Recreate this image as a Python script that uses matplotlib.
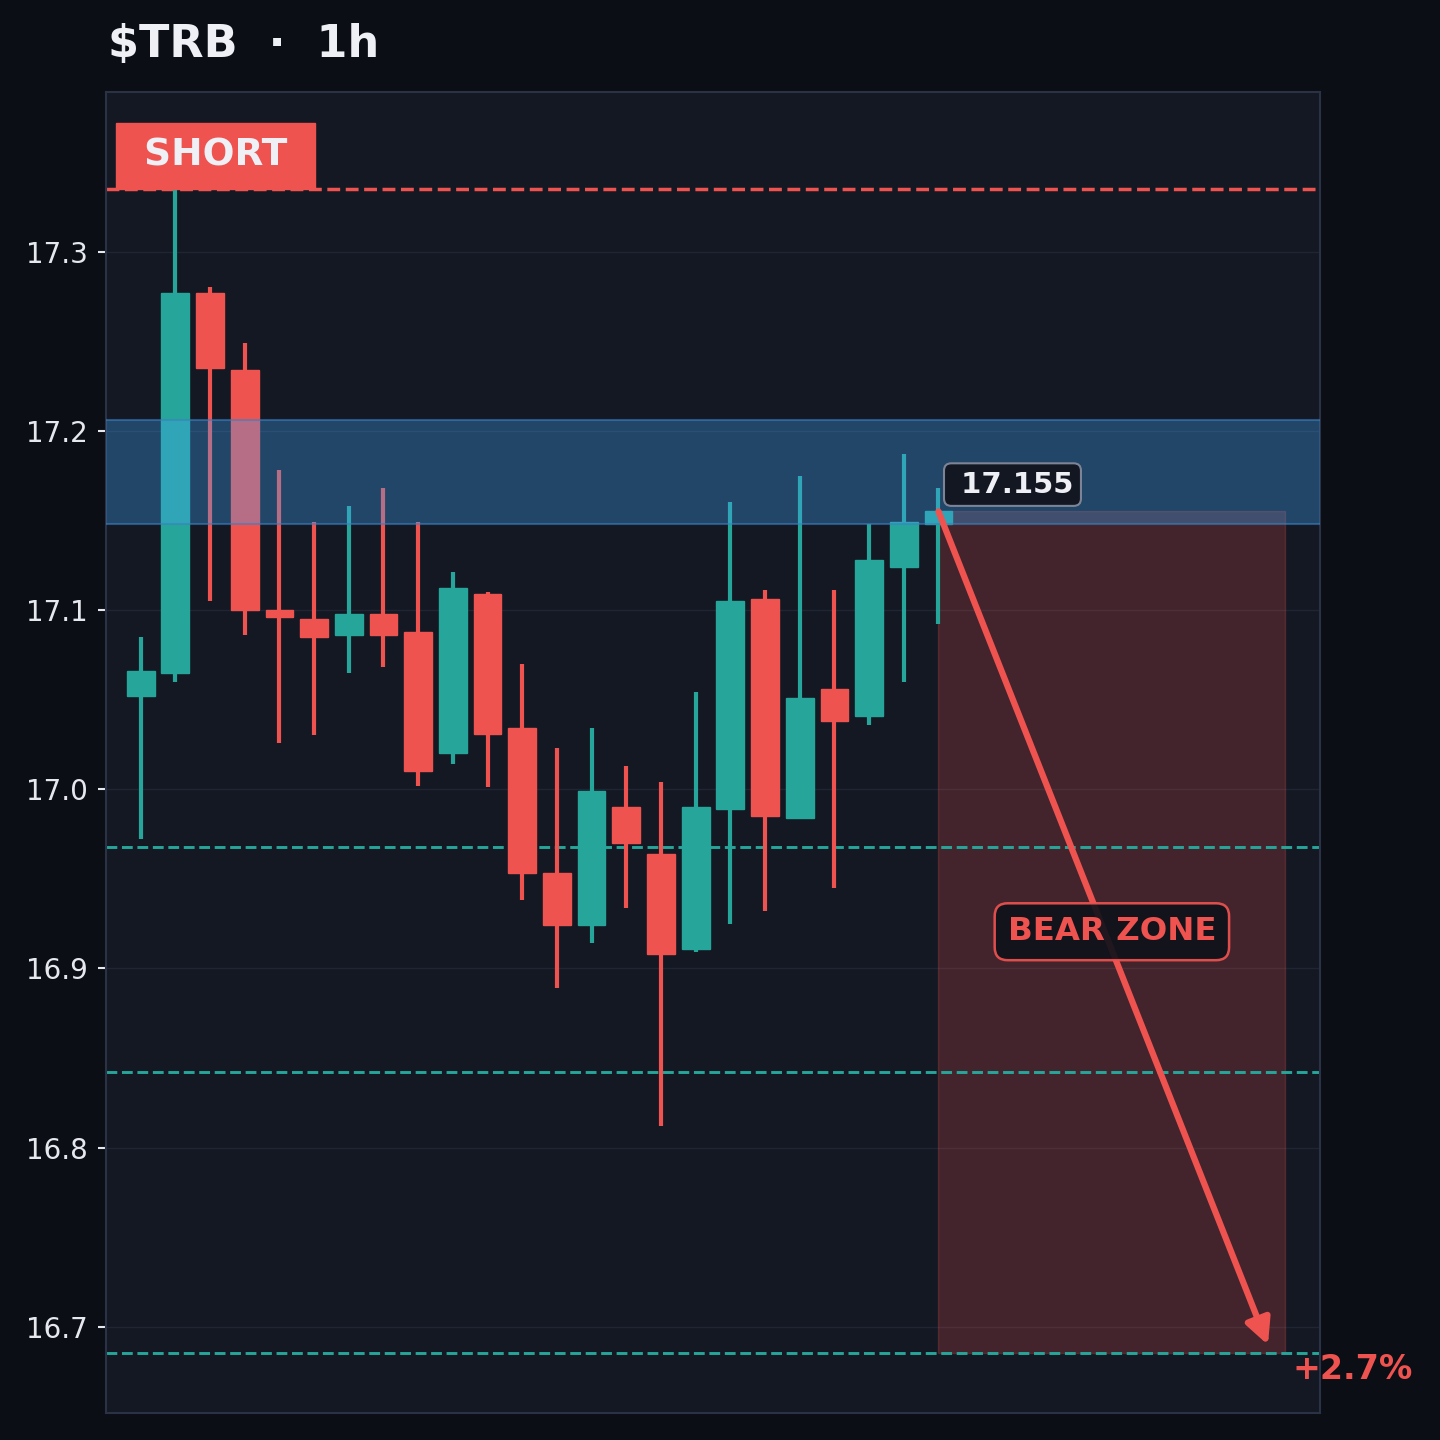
import matplotlib
matplotlib.use('Agg')
import matplotlib.pyplot as plt
from matplotlib.patches import Rectangle

# candle data (1h, 24 bars)
opens = [17.052, 17.065, 17.277, 17.234, 17.100, 17.095, 17.086, 17.098,
         17.088, 17.020, 17.109, 17.034, 16.953, 16.924, 16.990, 16.964,
         16.911, 16.989, 17.106, 16.984, 17.056, 17.041, 17.124, 17.148]
highs = [17.085, 17.336, 17.280, 17.249, 17.178, 17.149, 17.158, 17.168,
         17.149, 17.121, 17.110, 17.070, 17.023, 17.034, 17.013, 17.004,
         17.054, 17.160, 17.111, 17.175, 17.111, 17.148, 17.187, 17.168]
lows = [16.972, 17.060, 17.105, 17.086, 17.026, 17.030, 17.065, 17.068,
        17.002, 17.014, 17.001, 16.938, 16.889, 16.914, 16.934, 16.812,
        16.909, 16.925, 16.932, 16.984, 16.945, 17.036, 17.060, 17.092]
closes = [17.066, 17.277, 17.235, 17.100, 17.096, 17.085, 17.098, 17.086,
          17.010, 17.112, 17.031, 16.953, 16.924, 16.999, 16.970, 16.908,
          16.990, 17.105, 16.985, 17.051, 17.038, 17.128, 17.149, 17.155]

entry_price = 17.155
stop_line = 17.335
targets = [16.968, 16.842, 16.6855]
zone_low, zone_high = 17.148, 17.206
gain_text = '+2.7%'

GREEN = '#26a69a'
RED = '#ef5350'
FIG_BG = '#0b0e15'
AX_BG = '#131823'

fig = plt.figure(figsize=(14.4, 14.4), dpi=100, facecolor=FIG_BG)
ax = fig.add_axes([106 / 1440, 1 - 1413 / 1440, (1320 - 106) / 1440, (1413 - 92) / 1440])
ax.set_facecolor(AX_BG)

n = len(opens)
xs = list(range(n))

# candles
for i in xs:
    o, h, l, c = opens[i], highs[i], lows[i], closes[i]
    col = GREEN if c >= o else RED
    ax.vlines(i, l, h, color=col, lw=3, zorder=2)
    ax.bar(i, abs(c - o), bottom=min(o, c), width=0.8, color=col,
           edgecolor=col, linewidth=1, zorder=2.1)

# resistance zone
ax.axhspan(zone_low, zone_high, facecolor='#42a5f5', alpha=0.33, zorder=3)
ax.axhline(zone_high, color='#3c7fbf', lw=1.5, alpha=0.6, zorder=3)
ax.axhline(zone_low, color='#3c7fbf', lw=1.5, alpha=0.6, zorder=3)

# stop line and targets
ax.axhline(stop_line, color=RED, lw=2.5, ls='--', zorder=1.6)
for t in targets:
    ax.axhline(t, color=GREEN, lw=2.1, ls='--', zorder=1.6)

# bear zone box
last = n - 1
ax.add_patch(Rectangle((last, targets[-1]), 10, entry_price - targets[-1],
                       facecolor=RED, alpha=0.22, edgecolor=RED, lw=1, zorder=1.4))

# arrow down to last target
ax.annotate('', xy=(32.5, 16.690), xytext=(last, entry_price),
            arrowprops=dict(arrowstyle='-|>', color=RED, lw=4.5,
                            mutation_scale=38, shrinkA=0, shrinkB=0,
                            capstyle='round'),
            zorder=5)

# labels
ax.text(2.16, 17.3533, ' SHORT ', color='#eef0f6', fontsize=27, fontweight='bold',
        ha='center', va='center', zorder=6,
        bbox=dict(boxstyle='square,pad=0.4', facecolor=RED, edgecolor=RED))

ax.text(23.37, 17.1655, ' {:.3f}'.format(entry_price), color='#eef0f6', fontsize=21,
        fontweight='bold', ha='left', va='baseline', zorder=6,
        bbox=dict(boxstyle='round,pad=0.25', facecolor='#131722',
                  edgecolor='#7d8496', lw=1.5))

ax.text(28.0, 16.9205, 'BEAR ZONE', color=RED, fontsize=23.3, fontweight='bold',
        ha='center', va='center', zorder=6,
        bbox=dict(boxstyle='round,pad=0.4', facecolor='#0f121a', alpha=0.92,
                  edgecolor=RED, lw=1.8))

ax.text(33.2, 16.671, gain_text, color=RED, fontsize=24, fontweight='bold',
        ha='left', va='baseline', zorder=6, clip_on=False)

fig.text(108 / 1440, 1 - 57 / 1440, '$TRB  ·  1h', color='#eef0f6',
         fontsize=32, fontweight='bold', ha='left', va='baseline')

# axes styling
ax.set_xlim(-1, 34)
ax.set_ylim(16.652, 17.389)
ax.set_xticks([])
ax.set_yticks([16.7, 16.8, 16.9, 17.0, 17.1, 17.2, 17.3])
ax.set_yticklabels(['{:.1f}'.format(v) for v in ax.get_yticks()])
ax.tick_params(axis='y', colors='#e6e8ee', labelsize=20, length=6, width=1.5, pad=7)
ax.grid(axis='y', color='#1f2533', lw=1, zorder=0)
ax.set_axisbelow(True)
for s in ax.spines.values():
    s.set_color('#2b3245')
    s.set_linewidth(1.5)

fig.savefig('out.png', facecolor=FIG_BG)
